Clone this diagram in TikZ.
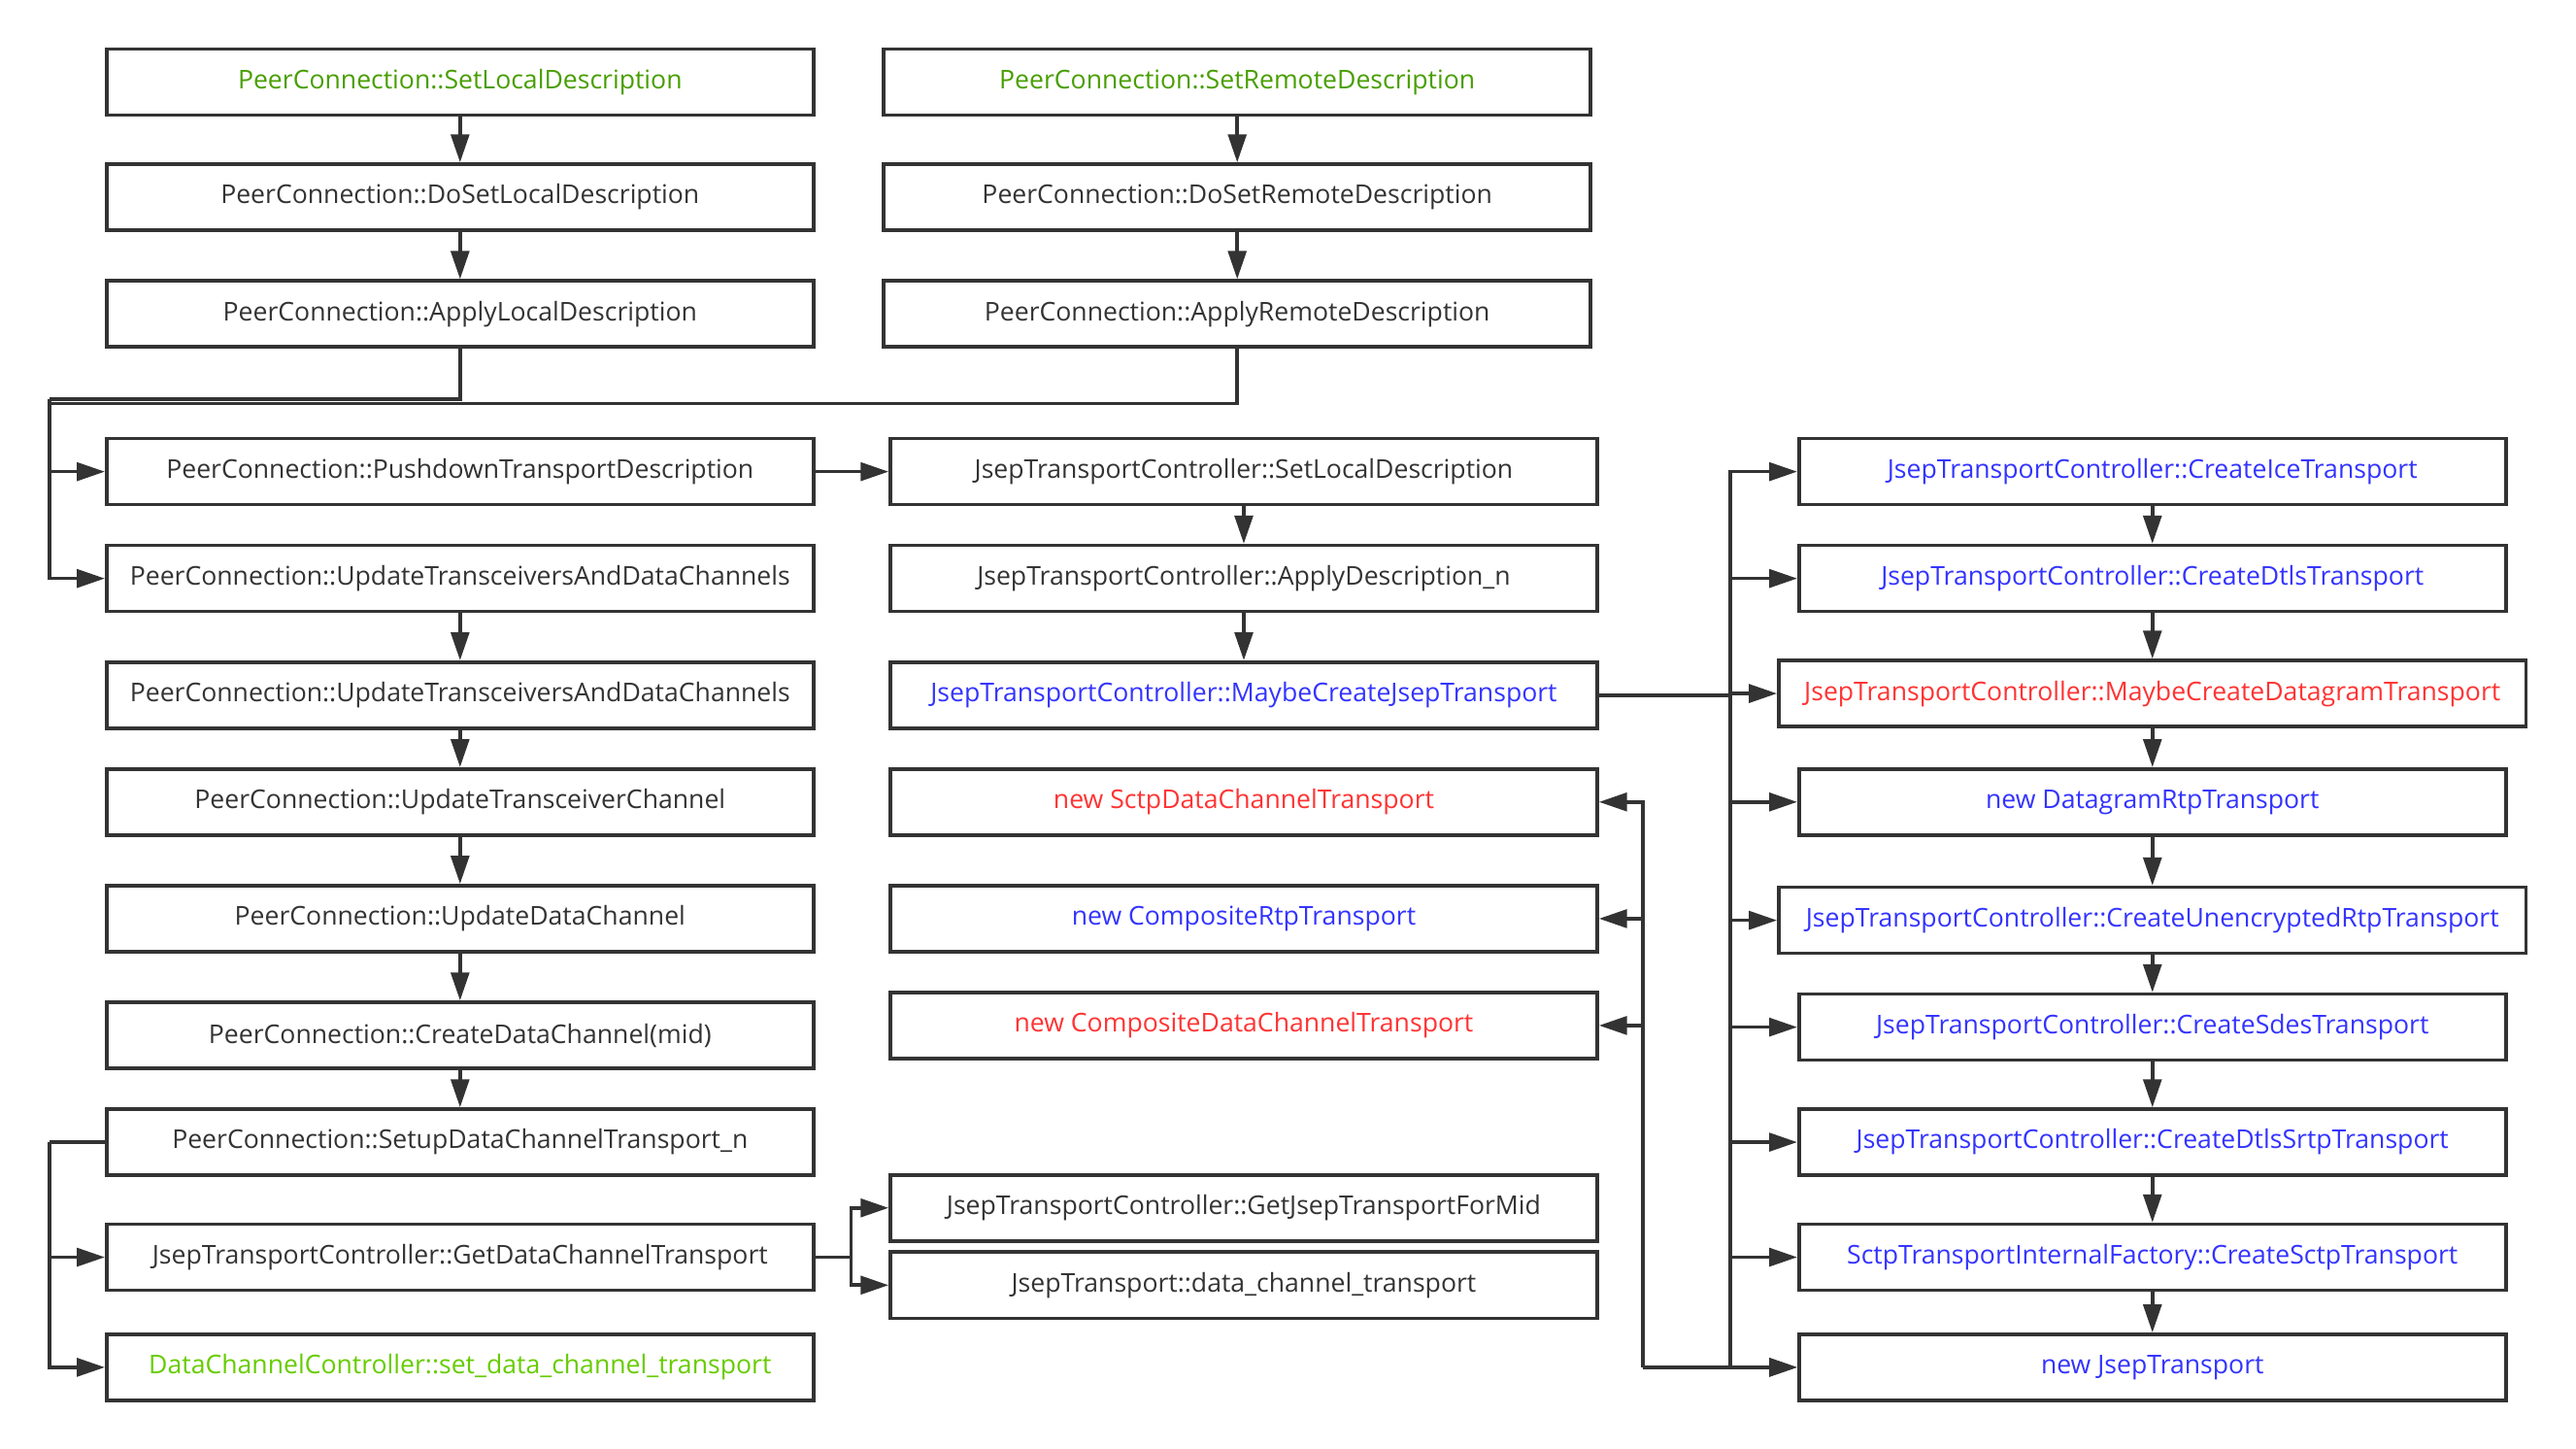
\documentclass[tikz,border=0pt]{standalone}
\usepackage{fontspec}
\setmainfont{Open Sans}
\usetikzlibrary{arrows.meta}
\definecolor{linegray}{RGB}{51,51,51}
\definecolor{callgreen}{RGB}{72,158,0}
\definecolor{setgreen}{RGB}{102,204,0}
\definecolor{callblue}{RGB}{51,51,255}
\definecolor{callred}{RGB}{255,51,51}
\begin{document}
\begin{tikzpicture}[x=0.0199cm,y=-0.0199cm,
  fn/.style={draw=linegray,line width=1.2pt,minimum width=8.56cm,minimum height=0.8cm,inner sep=0pt,text=linegray,font=\fontsize{8.9}{10}\selectfont},
  widefn/.style={fn,minimum width=9.05cm},
  link/.style={draw=linegray,line width=1.2pt},
  arr/.style={link,-{Triangle[length=0.34cm,width=0.22cm]}}]
\useasboundingbox (0,0) rectangle (1567.8,881.7);

\node[fn,text=callgreen] (l1) at (280,50) {PeerConnection::SetLocalDescription};
\node[fn] (l2) at (280,120) {PeerConnection::DoSetLocalDescription};
\node[fn] (l3) at (280,191) {PeerConnection::ApplyLocalDescription};
\node[fn] (l4) at (280,287) {PeerConnection::PushdownTransportDescription};
\node[fn] (l5) at (280,352) {PeerConnection::UpdateTransceiversAndDataChannels};
\node[fn] (l6) at (280,423) {PeerConnection::UpdateTransceiversAndDataChannels};
\node[fn] (l7) at (280,488) {PeerConnection::UpdateTransceiverChannel};
\node[fn] (l8) at (280,559) {PeerConnection::UpdateDataChannel};
\node[fn] (l9) at (280,630) {PeerConnection::CreateDataChannel(mid)};
\node[fn] (l10) at (280,695) {PeerConnection::SetupDataChannelTransport\_n};
\node[fn] (l11) at (280,765) {JsepTransportController::GetDataChannelTransport};
\node[fn,text=setgreen] (l12) at (280,832) {DataChannelController::set\_data\_channel\_transport};

\node[fn,text=callgreen] (m1) at (753,50) {PeerConnection::SetRemoteDescription};
\node[fn] (m2) at (753,120) {PeerConnection::DoSetRemoteDescription};
\node[fn] (m3) at (753,191) {PeerConnection::ApplyRemoteDescription};
\node[fn] (m4) at (757,287) {JsepTransportController::SetLocalDescription};
\node[fn] (m5) at (757,352) {JsepTransportController::ApplyDescription\_n};
\node[fn,text=callblue] (m6) at (757,423) {JsepTransportController::MaybeCreateJsepTransport};
\node[fn,text=callred] (m7) at (757,488) {new SctpDataChannelTransport};
\node[fn,text=callblue] (m8) at (757,559) {new CompositeRtpTransport};
\node[fn,text=callred] (m9) at (757,624) {new CompositeDataChannelTransport};
\node[fn] (m10) at (757,735) {JsepTransportController::GetJsepTransportForMid};
\node[fn] (m11) at (757,782) {JsepTransport::data\_channel\_transport};

\node[fn,text=callblue] (r1) at (1310,287) {JsepTransportController::CreateIceTransport};
\node[fn,text=callblue] (r2) at (1310,352) {JsepTransportController::CreateDtlsTransport};
\node[widefn,text=callred] (r3) at (1310,422) {JsepTransportController::MaybeCreateDatagramTransport};
\node[fn,text=callblue] (r4) at (1310,488) {new DatagramRtpTransport};
\node[widefn,text=callblue] (r5) at (1310,560) {JsepTransportController::CreateUnencryptedRtpTransport};
\node[fn,text=callblue] (r6) at (1310,625) {JsepTransportController::CreateSdesTransport};
\node[fn,text=callblue] (r7) at (1310,695) {JsepTransportController::CreateDtlsSrtpTransport};
\node[fn,text=callblue] (r8) at (1310,765) {SctpTransportInternalFactory::CreateSctpTransport};
\node[fn,text=callblue] (r9) at (1310,832) {new JsepTransport};

\coordinate (applyjoin) at (30,243);
\coordinate (remotejoin) at (30,245.5);
\coordinate (setupjoin) at (30,695);
\coordinate (getjoin) at (518,765);
\coordinate (trunk) at (1053,423);
\coordinate (backjoin) at (1000,832);

\draw[arr] (l1) -- (l2);
\draw[arr] (l2) -- (l3);
\draw[arr] (m1) -- (m2);
\draw[arr] (m2) -- (m3);

\draw[link] (l3.south) |- (applyjoin);
\draw[link] (m3.south) |- (remotejoin);
\draw[arr] (applyjoin) |- (l4.west);
\draw[arr] (applyjoin) |- (l5.west);

\draw[arr] (l4) -- (m4);
\draw[arr] (m4) -- (m5);
\draw[arr] (m5) -- (m6);

\draw[arr] (l5) -- (l6);
\draw[arr] (l6) -- (l7);
\draw[arr] (l7) -- (l8);
\draw[arr] (l8) -- (l9);
\draw[arr] (l9) -- (l10);

\draw[link] (l10.west) -- (setupjoin);
\draw[arr] (setupjoin) |- (l11.west);
\draw[arr] (setupjoin) |- (l12.west);

\draw[link] (l11.east) -- (getjoin);
\draw[arr] (getjoin) |- (m10.west);
\draw[arr] (getjoin) |- (m11.west);

\draw[link] (m6.east) -- (trunk);
\draw[arr] (trunk) |- (r1.west);
\draw[arr] (trunk) |- (r2.west);
\draw[arr] (trunk) |- (r3.west);
\draw[arr] (trunk) |- (r4.west);
\draw[arr] (trunk) |- (r5.west);
\draw[arr] (trunk) |- (r6.west);
\draw[arr] (trunk) |- (r7.west);
\draw[arr] (trunk) |- (r8.west);
\draw[arr] (trunk) |- (r9.west);

\draw[arr] (r1) -- (r2);
\draw[arr] (r2) -- (r3);
\draw[arr] (r3) -- (r4);
\draw[arr] (r4) -- (r5);
\draw[arr] (r5) -- (r6);
\draw[arr] (r6) -- (r7);
\draw[arr] (r7) -- (r8);
\draw[arr] (r8) -- (r9);

\draw[arr] (backjoin) -- (r9.west);
\draw[arr] (backjoin) |- (m7.east);
\draw[arr] (backjoin) |- (m8.east);
\draw[arr] (backjoin) |- (m9.east);
\end{tikzpicture}
\end{document}
